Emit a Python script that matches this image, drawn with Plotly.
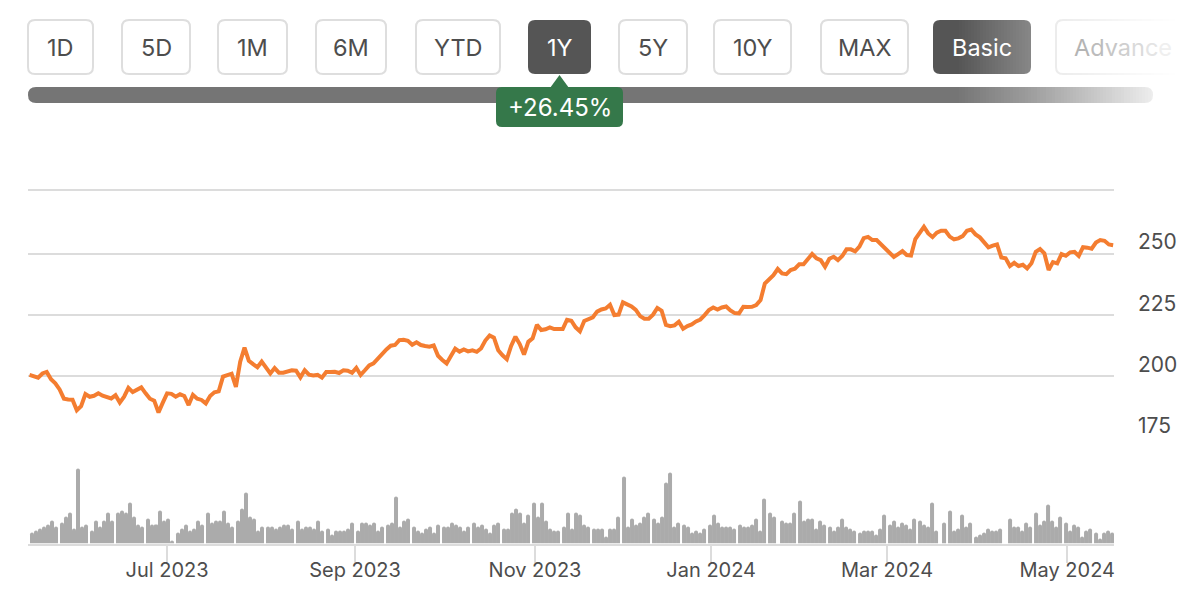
import numpy as np
import plotly.graph_objects as go

W, H = 1194, 600

price = [
    200.6, 200.2, 199.5, 201.2, 201.8, 198.8, 197.2, 194.7, 190.9, 190.6,
    190.5, 186.2, 187.9, 192.8, 191.7, 192.1, 193.1, 192.1, 191.5, 191.0,
    192.3, 189.3, 191.7, 195.3, 193.6, 194.4, 195.5, 193.1, 190.9, 190.1,
    185.3, 189.3, 193.1, 192.9, 191.7, 192.7, 192.0, 188.3, 192.5, 190.9,
    190.4, 189.0, 192.0, 193.5, 193.9, 199.9, 200.4, 201.1, 195.7, 206.0,
    211.7, 206.4, 205.0, 203.7, 206.0, 203.3, 201.2, 203.4, 201.5, 201.5,
    202.2, 202.5, 202.3, 199.6, 202.5, 200.7, 200.4, 200.6, 199.5, 201.8,
    201.8, 201.9, 201.4, 202.5, 202.3, 201.5, 203.5, 200.6, 202.5, 204.5,
    205.3, 207.3, 209.1, 211.0, 212.5, 212.8, 214.8, 214.9, 214.5, 212.9,
    213.9, 212.8, 212.4, 212.1, 212.6, 208.4, 206.7, 205.3, 208.3, 211.3,
    210.1, 211.0, 210.2, 210.6, 210.0, 211.4, 214.6, 216.7, 215.8, 210.7,
    208.6, 207.0, 212.4, 216.2, 213.2, 208.9, 214.1, 215.5, 221.0, 218.9,
    219.2, 220.0, 219.3, 219.3, 219.3, 223.1, 222.7, 220.0, 218.4, 222.6,
    223.4, 224.1, 226.4, 227.3, 227.7, 229.2, 225.0, 225.2, 230.2, 229.5,
    228.5, 227.1, 224.6, 223.5, 223.5, 225.2, 227.9, 226.8, 221.0, 220.5,
    220.8, 222.3, 219.4, 220.5, 221.2, 222.4, 223.2, 225.0, 227.1, 228.1,
    227.3, 228.1, 228.5, 226.9, 225.8, 225.7, 228.4, 228.3, 228.4, 229.1,
    231.1, 237.9, 239.6, 241.3, 243.8, 242.0, 241.7, 243.4, 243.9, 245.7,
    245.7, 247.7, 249.9, 248.2, 247.4, 244.7, 248.0, 248.8, 247.4, 249.1,
    251.8, 251.8, 251.0, 252.9, 256.4, 256.9, 255.6, 255.6, 254.0, 252.0,
    250.7, 248.7, 249.9, 251.1, 249.5, 249.3, 256.0, 258.7, 261.0, 258.3,
    256.8, 258.6, 259.4, 259.4, 257.0, 255.9, 256.3, 257.2, 259.4, 259.9,
    257.9, 256.7, 254.9, 252.6, 253.3, 253.8, 248.5, 248.2, 245.0, 246.3,
    245.0, 245.5, 244.0, 246.1, 250.8, 251.9, 250.2, 243.4, 246.6, 246.1,
    249.9, 249.2, 250.6, 250.8, 249.1, 252.7, 252.5, 252.1, 254.6, 255.6,
    255.3, 253.8, 253.5,
]

# millions of shares
volume = [
    11, 13, 15, 17, 19, 23, 17,
    21, 27, 31, 15, 75, 17, 19,
    13, 23, 17, 23, 31, 23, 31,
    33, 31, 41, 27, 19, 17,
    25, 19, 19, 33, 23, 25, 3,
    11, 15, 19, 13, 15, 23, 19,
    31, 21, 23, 23, 33, 21, 17,
    23, 35, 51, 27, 25, 13, 17,
    17, 17, 15, 17, 19, 19, 15,
    23, 15, 17, 17, 15, 23,
    13, 15, 9, 13, 13, 13, 15,
    21, 13, 21, 21, 19, 21, 13,
    17, 19, 21, 47, 17, 23, 25,
    17, 13, 11, 15, 17, 11, 19,
    17, 17, 21, 19, 17, 13, 17,
    21, 17, 19, 15, 11, 19, 21,
    15, 15, 31, 35, 31, 21,
    29, 41, 27, 41, 23, 15, 13,
    13, 17, 31, 15, 31, 29, 19,
    17, 15, 15, 15, 7, 15, 15,
    27, 67, 17, 25, 19, 21, 27,
    31, 25, 21, 27, 61, 71, 17,
    21, 19, 17, 11, 13, 11,
    15, 19, 29, 21, 17, 17, 17,
    15, 19, 17, 17, 19, 25, 13,
    45, 31, 27, 0, 23, 21, 21,
    31, 43, 23, 25, 25, 15, 23,
    19, 17, 13, 17, 25, 17, 15,
    13, 11, 13, 13, 13, 9,
    15, 29, 19, 23, 17, 21, 19,
    15, 25, 23, 19, 17, 41, 13, 0,
    21, 33, 13, 15, 29, 17,
    21, 7, 9, 11, 15, 13, 13,
    15, 0,
    25, 17, 17, 13, 21,
    17, 31, 19, 23, 39, 23,
    17, 27, 21, 13, 19, 17, 7,
    13, 15, 11, 5, 11, 13, 11,
]

date_ticks = [31.47, 75.3, 117.25, 158.3, 199.3, 241.3]
date_labels = ["Jul 2023", "Sep 2023", "Nov 2023", "Jan 2024", "Mar 2024", "May 2024"]
price_ticks = [175, 200, 225, 250, 276]
price_labels = ["175", "200", "225", "250"]

buttons = ["1D", "5D", "1M", "6M", "YTD", "1Y", "5Y", "10Y", "MAX", "Basic"]
button_left = [28, 122, 218, 316, 416, 528, 619, 714, 821, 933]
button_right = [93, 190, 287, 386, 500, 591, 687, 791, 908, 1031]
active = {"1Y", "Basic"}

TEXT = "#4d4d4d"
GRID = "#dcdcdc"
FONT = "Inter, 'Liberation Sans', sans-serif"
BAR_STEP = 4.29  # pixels per trading day


def px(x):
    return x / W


def py(y):
    return 1 - y / H


def rounded(x0, y0, x1, y1, r):
    # rounded rectangle as an svg path, in page pixels
    pts = [
        f"M{px(x0 + r)},{py(y0)}", f"L{px(x1 - r)},{py(y0)}", f"Q{px(x1)},{py(y0)} {px(x1)},{py(y0 + r)}",
        f"L{px(x1)},{py(y1 - r)}", f"Q{px(x1)},{py(y1)} {px(x1 - r)},{py(y1)}",
        f"L{px(x0 + r)},{py(y1)}", f"Q{px(x0)},{py(y1)} {px(x0)},{py(y1 - r)}",
        f"L{px(x0)},{py(y0 + r)}", f"Q{px(x0)},{py(y0)} {px(x0 + r)},{py(y0)}", "Z",
    ]
    return " ".join(pts)


def chrome_shape(path, fill, line=None):
    return dict(type="path", xref="paper", yref="paper", path=path, fillcolor=fill,
                line=dict(color=line or fill, width=2 if line else 0), layer="above")


def page_text(x, y, text, size, color, xanchor="center"):
    return dict(x=px(x), y=py(y), xref="paper", yref="paper", text=text, showarrow=False,
                xanchor=xanchor, yanchor="middle", font=dict(size=size, family=FONT, color=color))


shapes = []
annotations = []

# range buttons
for label, x0, x1 in zip(buttons, button_left, button_right):
    on = label in active
    shapes.append(chrome_shape(rounded(x0, 20, x1, 74, 7), "#555555" if on else "white", None if on else "#dedede"))
    annotations.append(page_text((x0 + x1) / 2, 47, label, 23.5, "white" if on else TEXT))

shapes.append(chrome_shape(rounded(1056, 20, 1192, 74, 7), "white", "#dedede"))
fade_letters = zip("Advance", ["#b4b4b4", "#bcbcbc", "#c6c6c6", "#cfcfcf", "#dadada", "#e4e4e4", "#efefef"])
annotations.append(page_text(1072, 47, "".join(f'<span style="color:{c}">{ch}</span>' for ch, c in fade_letters),
                             23.5, "#c6c6c6", xanchor="left"))

# scrubber track
shapes.append(chrome_shape(rounded(28, 87, 1153, 103, 8), "#757575"))

# white fade over the right end of the header
for left in np.arange(950, 1194, 3):
    alpha = float(np.interp(left, [955, 1030, 1153, 1178], [0, 0.3, 0.88, 1]))
    shapes.append(dict(type="rect", xref="paper", yref="paper", x0=px(left), x1=px(left + 3), y0=py(112), y1=py(0),
                       fillcolor="white", opacity=alpha, line=dict(width=0), layer="above"))

# change badge
shapes.append(chrome_shape(f"M{px(550)},{py(88)} L{px(559.5)},{py(75)} L{px(569)},{py(88)} Z", "#35784a"))
shapes.append(chrome_shape(rounded(496, 87, 623, 127, 6), "#35784a"))
annotations.append(page_text(559.5, 107.5, "+26.45%", 24, "white"))

# price labels sit above their gridlines
for label in price_labels:
    annotations.append(dict(x=px(1136), y=float(label), xref="paper", yref="y", yshift=12,
                            xanchor="left", yanchor="middle", text=label, showarrow=False,
                            font=dict(size=21, family=FONT, color=TEXT)))

# the source snaps its bars to even pixels, which leaves a small gap every seven bars
days = np.arange(len(volume))
bar_x = np.floor((days * BAR_STEP + 0.2) / 2) * 2 / BAR_STEP

fig = go.Figure()
fig.add_trace(go.Scatter(x=list(range(len(price))), y=price, mode="lines", xaxis="x", yaxis="y",
                         line=dict(color="#f47d30", width=4), hoverinfo="skip"))
fig.add_trace(go.Bar(x=bar_x, y=volume, width=4 / BAR_STEP, xaxis="x2", yaxis="y2",
                     marker=dict(color="#ababab", line=dict(width=0)), hoverinfo="skip"))

fig.update_layout(
    width=W, height=H, autosize=False,
    margin=dict(l=0, r=0, t=0, b=0),
    paper_bgcolor="white", plot_bgcolor="white",
    showlegend=False, barcornerradius=2,
    font=dict(family=FONT, color=TEXT),
    shapes=shapes, annotations=annotations,
    xaxis=dict(domain=[px(28), px(1114)], range=[-0.35, 252.2], anchor="y", visible=False),
    yaxis=dict(domain=[py(437.7), py(188.8)], range=[175, 276.5], anchor="x", side="right",
               tickvals=price_ticks, showticklabels=False, ticks="",
               showgrid=True, gridcolor=GRID, gridwidth=2, zeroline=False),
    xaxis2=dict(domain=[px(28), px(1114)], range=[-0.932, 252.2], anchor="y2",
                tickvals=date_ticks, ticktext=date_labels, tickfont=dict(size=20, family=FONT, color=TEXT),
                ticks="outside", ticklen=17, tickwidth=2, tickcolor=GRID, ticklabelstandoff=-10,
                showline=True, linecolor=GRID, linewidth=2, showgrid=False, zeroline=False),
    yaxis2=dict(domain=[py(543.5), py(463.5)], range=[0, 80], anchor="x2", visible=False),
)

fig.write_html("out.html", config={"displayModeBar": False},
               post_script="document.body.style.margin='0';document.documentElement.style.overflow='hidden';")
